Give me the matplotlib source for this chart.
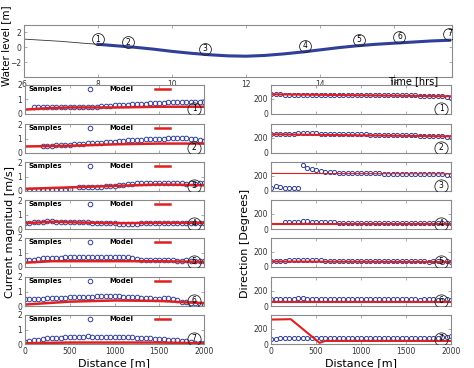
import numpy as np
import matplotlib
matplotlib.use("Agg")
import matplotlib.pyplot as plt

nan = np.nan

# water level (top panel)
t_before = [6, 7, 7.6, 8]
wl_before = [1.1, 0.8, 0.55, 0.4]
t_run = [8, 8.5, 9, 9.5, 10, 10.5, 11, 11.5, 12, 12.5, 13, 13.5, 14, 14.5,
         15, 15.5, 16, 16.5, 17, 17.5]
wl_run = [0.4, 0.2, 0.0, -0.25, -0.55, -0.8, -1.0, -1.15, -1.2, -1.1, -0.9,
          -0.65, -0.35, -0.05, 0.2, 0.4, 0.55, 0.7, 0.85, 0.95]
label_t = [8.0, 8.8, 10.9, 13.6, 15.05, 16.15, 17.5]
label_wl = [1.1, 0.7, -0.2, 0.2, 1.0, 1.4, 1.8]
labels = ['1', '2', '3', '4', '5', '6', '7']

# distance of samples along the transect
dist = np.arange(0, 2001, 50)

# current magnitude samples [m/s]
c1 = [nan, nan, 0.5, 0.5, 0.5, 0.5, 0.5, 0.5, 0.5, 0.5, 0.5, 0.5, 0.5, 0.5, 0.5, 0.5, 0.5,
      0.52, 0.55, 0.58, 0.6, 0.6, 0.62, 0.65, 0.68, 0.7, 0.7, 0.72, 0.75, 0.75, 0.75,
      0.78, 0.8, 0.8, 0.8, 0.82, 0.8, 0.82, 0.85, 0.8, 0.85]
c2 = [nan, nan, nan, nan, 0.5, 0.5, 0.5, 0.52, 0.55, 0.55, 0.58, 0.6, 0.62, 0.65, 0.7,
      0.72, 0.72, 0.72, 0.75, 0.75, 0.78, 0.8, 0.85, 0.88, 0.9, 0.9, 0.92, 0.95, 0.98,
      1.0, 1.0, 1.0, 1.02, 1.05, 1.05, 1.05, 1.02, 1.0, 0.95, 0.9, 0.85]
c3 = [0.1, 0.1, 0.08, 0.05, 0.05, 0.08, 0.05, 0.08, 0.1, 0.1, 0.12, nan, 0.25, 0.25,
      0.3, 0.3, 0.28, 0.3, 0.32, 0.35, 0.35, 0.38, 0.4, 0.45, 0.5, 0.52, 0.55, 0.55,
      0.55, 0.55, 0.55, 0.55, 0.55, 0.52, 0.55, 0.55, 0.5, 0.55, 0.5, 0.55, 0.55]
c4 = [0.4, 0.42, 0.45, 0.5, 0.5, 0.52, 0.52, 0.5, 0.5, 0.48, 0.48, 0.45, 0.45, 0.45,
      0.45, 0.42, 0.42, 0.4, 0.4, 0.38, 0.38, 0.35, 0.35, 0.35, 0.35, 0.35, 0.38, 0.4,
      0.4, 0.4, 0.42, 0.42, 0.42, 0.42, 0.42, 0.42, 0.4, 0.42, 0.4, 0.42, 0.42]
c5 = [0.45, 0.5, 0.5, 0.55, 0.6, 0.6, 0.62, 0.65, 0.65, 0.68, 0.68, 0.7, 0.7, 0.7, 0.7,
      0.7, 0.68, 0.7, 0.7, 0.68, 0.7, 0.7, 0.7, 0.68, 0.62, 0.55, 0.5, 0.48, 0.45, 0.45,
      0.45, 0.45, 0.45, 0.45, 0.42, 0.42, 0.45, 0.42, 0.42, 0.4, 0.42]
c6 = [0.45, 0.45, 0.48, 0.5, 0.5, 0.52, 0.55, 0.55, 0.58, 0.58, 0.6, 0.6, 0.62, 0.62,
      0.65, 0.65, 0.68, 0.7, 0.7, 0.7, 0.68, 0.68, 0.65, 0.65, 0.62, 0.6, 0.58, 0.55,
      0.52, 0.5, 0.5, 0.52, 0.55, 0.5, 0.4, 0.3, 0.25, 0.2, 0.2, 0.15, 0.15]
c7 = [0.15, 0.2, 0.25, 0.3, 0.35, 0.38, 0.4, 0.42, 0.42, 0.45, 0.45, 0.48, 0.5, 0.5,
      0.52, 0.5, 0.5, 0.5, 0.5, 0.48, 0.48, 0.48, 0.45, 0.45, 0.45, 0.42, 0.42, 0.4,
      0.38, 0.35, 0.35, 0.32, 0.3, 0.28, 0.25, 0.2, 0.18, 0.15, 0.1, 0.08, 0.05]
mag_samples = [c1, c2, c3, c4, c5, c6, c7]

# current magnitude model
mag_model_x = [
    [0, 250, 500, 1000, 1500, 2000],
    [0, 500, 1000, 1500, 2000],
    [0, 500, 1000, 1500, 2000],
    [0, 300, 600, 1000, 1500, 2000],
    [0, 300, 1000, 1500, 2000],
    [0, 500, 1000, 1500, 1800, 2000],
    [0, 500, 1000, 1500, 2000],
]
mag_model_y = [
    [0.3, 0.4, 0.45, 0.45, 0.5, 0.5],
    [0.45, 0.5, 0.6, 0.65, 0.65],
    [0.15, 0.25, 0.35, 0.45, 0.4],
    [0.4, 0.5, 0.45, 0.4, 0.42, 0.42],
    [0.3, 0.4, 0.4, 0.4, 0.35],
    [0.1, 0.3, 0.38, 0.35, 0.25, 0.2],
    [0.05, 0.1, 0.1, 0.1, 0.05],
]

# direction samples [deg]
d1 = [262, 260, 258, 255, 252, 250, 250, 250, 250, 250, 250, 250, 250, 252, 250, 248,
      248, 248, 248, 248, 245, 245, 245, 245, 245, 245, 245, 245, 245, 245, 245, 245,
      245, 238, 238, 235, 235, 232, 232, 228, 215]
d2 = [245, 245, 245, 248, 250, 255, 258, 258, 258, 258, 258, 255, 255, 255, 255, 252,
      252, 250, 250, 250, 250, 245, 232, 230, 230, 230, 230, 230, 230, 230, 230, 230,
      230, 228, 228, 222, 222, 220, 220, 215, 205]
d3 = [40, 60, 55, 40, 38, 40, 42, 335, 300, 290, 275, 262, 250, 245, 245, 240, 240,
      240, 238, 240, 242, 235, 232, 230, 230, 228, 228, 225, 225, 222, 225, 222, 225,
      220, 222, 220, 220, 218, 220, 215, 215]
d4 = [nan, nan, nan, 95, 95, 95, 98, 100, 100, 98, 98, 95, 95, 92, 90, 85, 82, 80, 78,
      78, 78, 78, 78, 78, 78, 78, 78, 78, 78, 78, 78, 78, 78, 78, 78, 75, 75, 75, 75,
      78, 75]
d5 = [85, 85, 85, 85, 88, 90, 95, 92, 88, 90, 95, 90, 85, 85, 80, 78, 80, 80, 78, 75,
      80, 75, 78, 80, 75, 78, 80, 78, 80, 80, 82, 78, 75, 80, 80, 70, 75, 78, 70, 75, 70]
d6 = [90, 95, 95, 95, 95, 98, 100, 100, 98, 95, 95, 95, 92, 95, 95, 92, 90, 92, 92, 90,
      88, 90, 90, 88, 88, 88, 88, 88, 88, 90, 90, 90, 88, 85, 88, 88, 90, 85, 85, 88, 80]
d7 = [65, 70, 75, 75, 80, 80, 85, 80, 85, 80, 80, 80, 78, 80, 80, 78, 78, 78, 80, 80,
      78, 80, 80, 78, 78, 75, 80, 78, 78, 80, 78, 75, 75, 75, 78, 80, 80, 85, 90, 95, 100]
dir_samples = [d1, d2, d3, d4, d5, d6, d7]

# direction model
dir_model_x = [[0, 2000], [0, 2000], [0, 2000], [0, 2000], [0, 2000], [0, 2000],
               [0, 220, 540, 600, 2000]]
dir_model_y = [[258, 232], [245, 218], [230, 225], [70, 70], [72, 65], [50, 50],
               [320, 325, 15, 40, 40]]

W, H = 474, 368
BLUE = '#2f3f9a'
RED = '#e02020'
SPINE = '#8a8a8a'


def px_axes(fig, left, top, right, bottom):
    return fig.add_axes([left / W, 1 - bottom / H, (right - left) / W, (bottom - top) / H])


def style(ax):
    for s in ax.spines.values():
        s.set_color(SPINE)
        s.set_linewidth(0.8)
    ax.tick_params(direction='in', length=2, width=0.5, colors=SPINE,
                   labelcolor='#333333', labelsize=5.5, top=True, right=True, pad=2)


def circled(ax, x, y, txt, size=8):
    ax.plot(x, y, 'o', ms=size, mfc='none', mec='#222222', mew=0.6, zorder=5)
    ax.text(x, y, txt, fontsize=5.5, ha='center', va='center', zorder=6)


fig = plt.figure(figsize=(W / 100, H / 100), dpi=100)

# top panel
ax = px_axes(fig, 24, 25, 452, 77)
style(ax)
ax.plot(t_before, wl_before, color='#333333', lw=0.6)
ax.plot(t_run, wl_run, color=BLUE, lw=2.2)
for t, w, lab in zip(label_t, label_wl, labels):
    circled(ax, t, w, lab, size=8.5)
ax.set_xlim(6, 17.57)
ax.set_ylim(-4, 3)
ax.set_xticks([6, 8, 10, 12, 14, 16])
ax.set_yticks([-2, 0, 2])
fig.text(6 / W, 1 - 46 / H, 'Water level [m]', rotation=90, fontsize=7.5,
         ha='center', va='center')
fig.text(438 / W, 1 - 81 / H, 'Time [hrs]', fontsize=7, ha='right', va='center')

tops = [85, 124, 162, 200, 238, 277, 315]
for i in range(7):
    top = tops[i]
    bot = top + 29

    # current magnitude
    ax = px_axes(fig, 25, top, 204, bot)
    style(ax)
    ax.plot(dist, mag_samples[i], 'o', ms=3.3, mfc='none', mec=BLUE, mew=0.7,
            label='Samples')
    ax.plot(mag_model_x[i], mag_model_y[i], color=RED, lw=1.8, label='Model')
    circled(ax, 1890, 0.35, labels[i], size=9.5)
    ax.set_xlim(0, 2000)
    ax.set_ylim(0, 2)
    ax.set_xticks([0, 500, 1000, 1500, 2000])
    ax.set_yticks([0, 1, 2])
    leg = ax.legend(loc='upper left', ncol=2, frameon=False, markerfirst=False,
                    fontsize=5, handlelength=2.2, columnspacing=1.7,
                    handletextpad=3.0, borderaxespad=0.1, borderpad=0.1,
                    bbox_to_anchor=(0.01, 1.0))
    for tx in leg.get_texts():
        tx.set_fontweight('bold')
    if i < 6:
        ax.set_xticklabels([])
    else:
        ax.set_xlabel('Distance [m]', fontsize=8, labelpad=2)

    # direction
    ax = px_axes(fig, 271, top, 451, bot)
    style(ax)
    ax.plot(dist, dir_samples[i], 'o', ms=3, mfc='none', mec=BLUE, mew=0.7)
    ax.plot(dir_model_x[i], dir_model_y[i], color=RED, lw=1.5 if i != 2 else 0.8)
    circled(ax, 1890, 70, labels[i], size=9.5)
    ax.set_xlim(0, 2000)
    ax.set_ylim(0, 380)
    ax.set_xticks([0, 500, 1000, 1500, 2000])
    ax.set_yticks([0, 200])
    if i < 6:
        ax.set_xticklabels([])
    else:
        ax.set_xlabel('Distance [m]', fontsize=8, labelpad=2)

fig.text(10 / W, 1 - 232 / H, 'Current magnitud [m/s]', rotation=90, fontsize=8,
         ha='center', va='center')
fig.text(245 / W, 1 - 243 / H, 'Direction [Degrees]', rotation=90, fontsize=8,
         ha='center', va='center')

fig.savefig('out.png', dpi=100)
